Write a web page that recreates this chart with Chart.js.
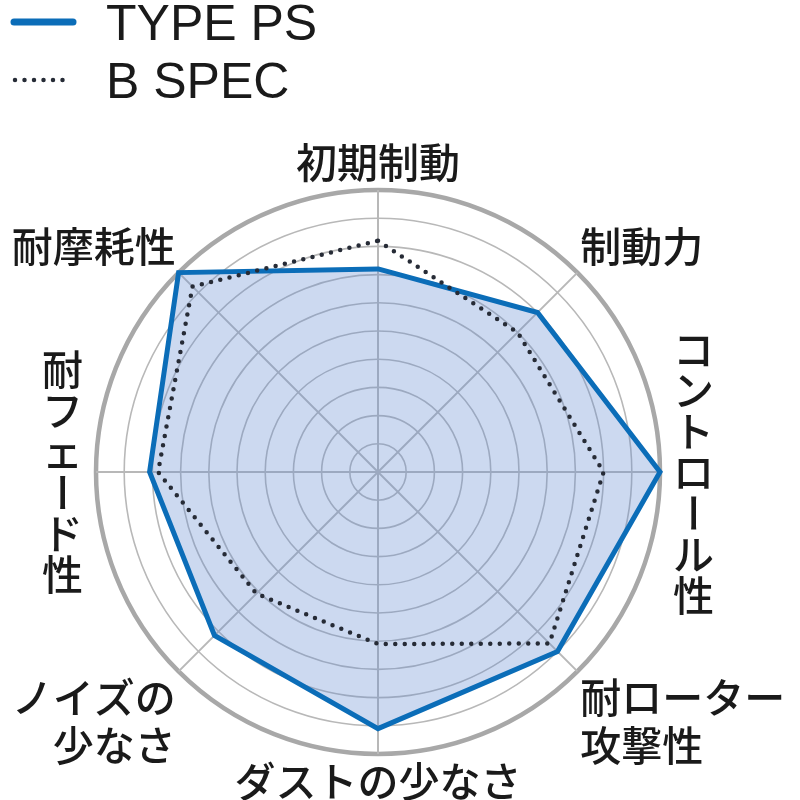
<!DOCTYPE html>
<html>
<head>
<meta charset="utf-8">
<script src="https://cdn.jsdelivr.net/npm/chart.js@4.4.1/dist/chart.umd.min.js"></script>
<style>
  html, body { margin: 0; padding: 0; background: #fff; }
</style>
</head>
<body>
<canvas id="radar" width="800" height="800"></canvas>
<script>
// Ejes del radar (las de varias lineas van como array)
const categorias = [
  "初期制動",
  "制動力",
  "コントロール性",
  ["耐ローター", "攻撃性"],
  "ダストの少なさ",
  ["ノイズの", "少なさ"],
  "耐フェード性",
  "耐摩耗性"
];
// indices de las etiquetas escritas en vertical
const verticales = [2, 6];

const nombreSeries = ["TYPE PS", "B SPEC"];
const valoresTypePs = [7.2, 8.0, 10, 9.0, 9.1, 8.2, 8.1, 10];
const valoresBSpec = [8.2, 7.0, 8.0, 8.6, 6.1, 6.1, 7.8, 9.3];

const escalaMin = 0;
const escalaMax = 10;
const paso = 1;

const canvas = document.getElementById("radar");

// Etiquetas de los ejes, dibujadas con la posicion que da la escala
const pluginEtiquetas = {
  id: "etiquetas",
  afterDatasetsDraw(chart) {
    const scale = chart.scales.r;
    const ctx = chart.ctx;
    const tam = 41;
    ctx.save();
    ctx.font = '500 ' + tam + 'px "Noto Sans CJK JP"';
    ctx.fillStyle = "#1a1a1a";
    ctx.textBaseline = "middle";
    chart.data.labels.forEach((label, i) => {
      const vertical = verticales.includes(i);
      const lineas = vertical ? Array.from(label) : [].concat(label);
      const alto = vertical ? tam : tam * 1.15;
      const h = lineas.length * alto;
      const pos = scale.getPointPosition(i, scale.drawingArea + (vertical ? 13 : 4));
      const ang = Math.round(scale.getIndexAngle(i) * 180 / Math.PI) % 360;

      let align = "center";
      if (ang > 0 && ang < 180) align = "left";
      else if (ang > 180) align = "right";

      let y = pos.y;
      if (ang === 90 || ang === 270) y -= h / 2;
      else if (ang > 270 || ang < 90) y -= h;

      lineas.forEach((txt, k) => {
        const cy = y + alto * k + alto / 2;
        if (vertical) {
          const cx = align === "left" ? pos.x + tam / 2 : pos.x - tam / 2;
          ctx.textAlign = "center";
          if (txt === "ー") {
            // la raya larga va girada en escritura vertical
            ctx.save();
            ctx.translate(cx, cy);
            ctx.rotate(Math.PI / 2);
            ctx.fillText(txt, 0, 0);
            ctx.restore();
          } else {
            ctx.fillText(txt, cx, cy);
          }
        } else {
          ctx.textAlign = align;
          ctx.fillText(txt, pos.x, cy);
        }
      });
    });
    ctx.restore();
  }
};

// Leyenda arriba a la izquierda, una serie por fila
const pluginLeyenda = {
  id: "leyendaPropia",
  afterDraw(chart) {
    const ctx = chart.ctx;
    ctx.save();
    chart.data.datasets.forEach((ds, i) => {
      const y = 22 + i * 58;
      ctx.beginPath();
      ctx.strokeStyle = ds.borderColor;
      ctx.lineCap = "round";
      if (ds.borderDash) {
        ctx.setLineDash(ds.borderDash);
        ctx.lineWidth = 4.5;
        ctx.moveTo(15, y);
        ctx.lineTo(68, y);
      } else {
        ctx.setLineDash([]);
        ctx.lineWidth = 7;
        ctx.moveTo(14, y);
        ctx.lineTo(73, y);
      }
      ctx.stroke();
      ctx.setLineDash([]);
      ctx.fillStyle = "#1a1a1a";
      ctx.font = '50px "Liberation Sans"';
      ctx.textAlign = "left";
      ctx.textBaseline = "alphabetic";
      ctx.fillText(ds.label, 106, y + 18);
    });
    ctx.restore();
  }
};

const grafico = new Chart(canvas, {
  type: "radar",
  data: {
    labels: categorias,
    datasets: [
      {
        label: nombreSeries[0],
        data: valoresTypePs,
        borderColor: "#0b6db8",
        borderWidth: 5,
        backgroundColor: "rgba(100, 140, 210, 0.33)",
        fill: true,
        pointRadius: 0,
        tension: 0,
        order: 1
      },
      {
        label: nombreSeries[1],
        data: valoresBSpec,
        borderColor: "#262b36",
        borderWidth: 4.5,
        borderDash: [0, 9.5],
        borderCapStyle: "round",
        fill: false,
        pointRadius: 0,
        tension: 0,
        order: 0
      }
    ]
  },
  options: {
    responsive: false,
    animation: false,
    layout: {
      padding: { left: 96, top: 190, right: 140, bottom: 46 }
    },
    plugins: {
      legend: { display: false },
      tooltip: { enabled: false }
    },
    scales: {
      r: {
        min: escalaMin,
        max: escalaMax,
        ticks: { display: false, stepSize: paso },
        pointLabels: { display: false },
        grid: {
          circular: true,
          color: (c) => c.index === 10 ? "#a8a8a8" : "#b8b8b8",
          lineWidth: (c) => c.index === 10 ? 4.5 : 1.6
        },
        angleLines: { color: "#b8b8b8", lineWidth: 2 }
      }
    }
  },
  plugins: [pluginEtiquetas, pluginLeyenda]
});
</script>
</body>
</html>
